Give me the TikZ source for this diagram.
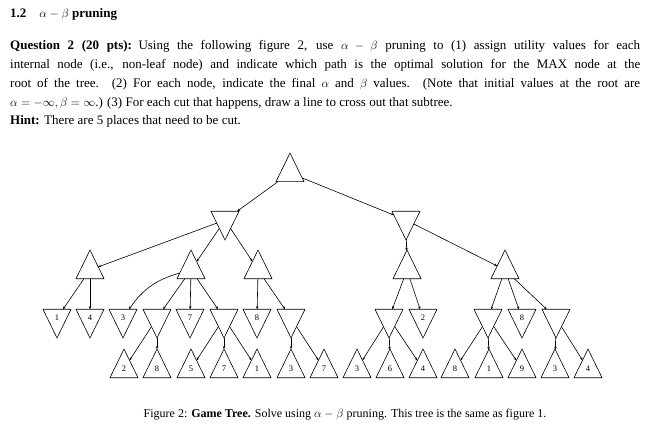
\documentclass[tikz,border=0pt]{standalone}
\usepackage{fontspec}
\setmainfont{Liberation Serif}
\usetikzlibrary{shapes.geometric,arrows.meta}
\begin{document}
\begin{tikzpicture}[x=1pt,y=1pt,
 tri/.style={draw,isosceles triangle,isosceles triangle apex angle=52,inner sep=0,outer sep=0,minimum size=28pt,line width=0.6pt,anchor=apex},
 up/.style={tri,shape border rotate=90},
 dn/.style={tri,shape border rotate=270},
 lu/.style={up,label={[font=\fontsize{8.5}{8.5}\selectfont]center:#1}},
 ld/.style={dn,label={[font=\fontsize{8.5}{8.5}\selectfont]center:#1}},
 e/.style={-{Stealth[length=3pt,width=2.5pt]},line width=0.6pt}]
\useasboundingbox (0,0) rectangle (663,441);
\node[anchor=north west,inner sep=0] (h) at (10,433) {\fontsize{13}{15}\selectfont\bfseries 1.2\quad $\alpha-\beta$ pruning};
\node[anchor=north west,inner sep=0,text width=630pt,align=justify] (p) at (10,401) {\fontsize{13}{19}\selectfont
\textbf{Question 2 (20 pts):}\enspace Using the following figure 2, use $\alpha-\beta$ pruning to (1) assign utility values for each\linebreak internal node (i.e., non-leaf node) and indicate which path is the optimal solution for the MAX node at the\linebreak root of the tree. (2) For each node, indicate the final $\alpha$ and $\beta$ values. (Note that initial values at the root are\linebreak $\alpha=-\infty,\beta=\infty$.) (3) For each cut that happens, draw a line to cross out that subtree.\par\vspace{6pt}
\textbf{Hint:} There are 5 places that need to be cut.};
\node[anchor=base,inner sep=0] (cap) at (345,23) {\fontsize{12}{14}\selectfont Figure 2: \textbf{Game Tree.} Solve using $\alpha-\beta$ pruning. This tree is the same as figure 1.};
% tree
\node[up] (R) at (290,288) {};
\node[dn] (A) at (225,201) {};
\node[dn] (B) at (406,201) {};
\node[up] (C) at (90,191) {};
\node[up] (D) at (191,191) {};
\node[up] (E) at (258,191) {};
\node[up] (I) at (407,191) {};
\node[up] (J) at (505,191) {};
\node[ld=1] (c1) at (57,103) {};
\node[ld=4] (c2) at (90,103) {};
\node[ld=3] (d1) at (123,103) {};
\node[dn] (F) at (157,103) {};
\node[ld=7] (d3) at (190,103) {};
\node[dn] (G) at (224,103) {};
\node[ld=8] (e1) at (257,103) {};
\node[dn] (H) at (291,103) {};
\node[dn] (K) at (389,103) {};
\node[ld=2] (i2) at (423,103) {};
\node[dn] (L) at (488,103) {};
\node[ld=8] (j2) at (522,103) {};
\node[dn] (M) at (556,103) {};
\node[lu=2] (f1) at (124,92) {};
\node[lu=8] (f2) at (157,92) {};
\node[lu=5] (g1) at (191,92) {};
\node[lu=7] (g2) at (224,92) {};
\node[lu=1] (g3) at (257,92) {};
\node[lu=3] (h1) at (291,92) {};
\node[lu=7] (h2) at (324,92) {};
\node[lu=3] (k1) at (357,92) {};
\node[lu=6] (k2) at (390,92) {};
\node[lu=4] (k3) at (423,92) {};
\node[lu=8] (l1) at (455,92) {};
\node[lu=1] (l2) at (489,92) {};
\node[lu=9] (l3) at (522,92) {};
\node[lu=3] (m1) at (555,92) {};
\node[lu=4] (m2) at (588,92) {};
\foreach \a/\b in {R/A,R/B,A/C,A/D,A/E,C/c1,C/c2,D/F,D/d3,D/G,F/f1,F/f2,G/g1,G/g2,G/g3,E/e1,E/H,H/h1,H/h2,B/I,B/J,I/K,I/i2,K/k1,K/k2,K/k3,J/L,J/j2,J/M,L/l1,L/l2,L/l3,M/m1,M/m2}
  \draw[e] (\a) -- (\b);
\draw[e] (D) to[bend right=20] (d1);
\end{tikzpicture}
\end{document}
